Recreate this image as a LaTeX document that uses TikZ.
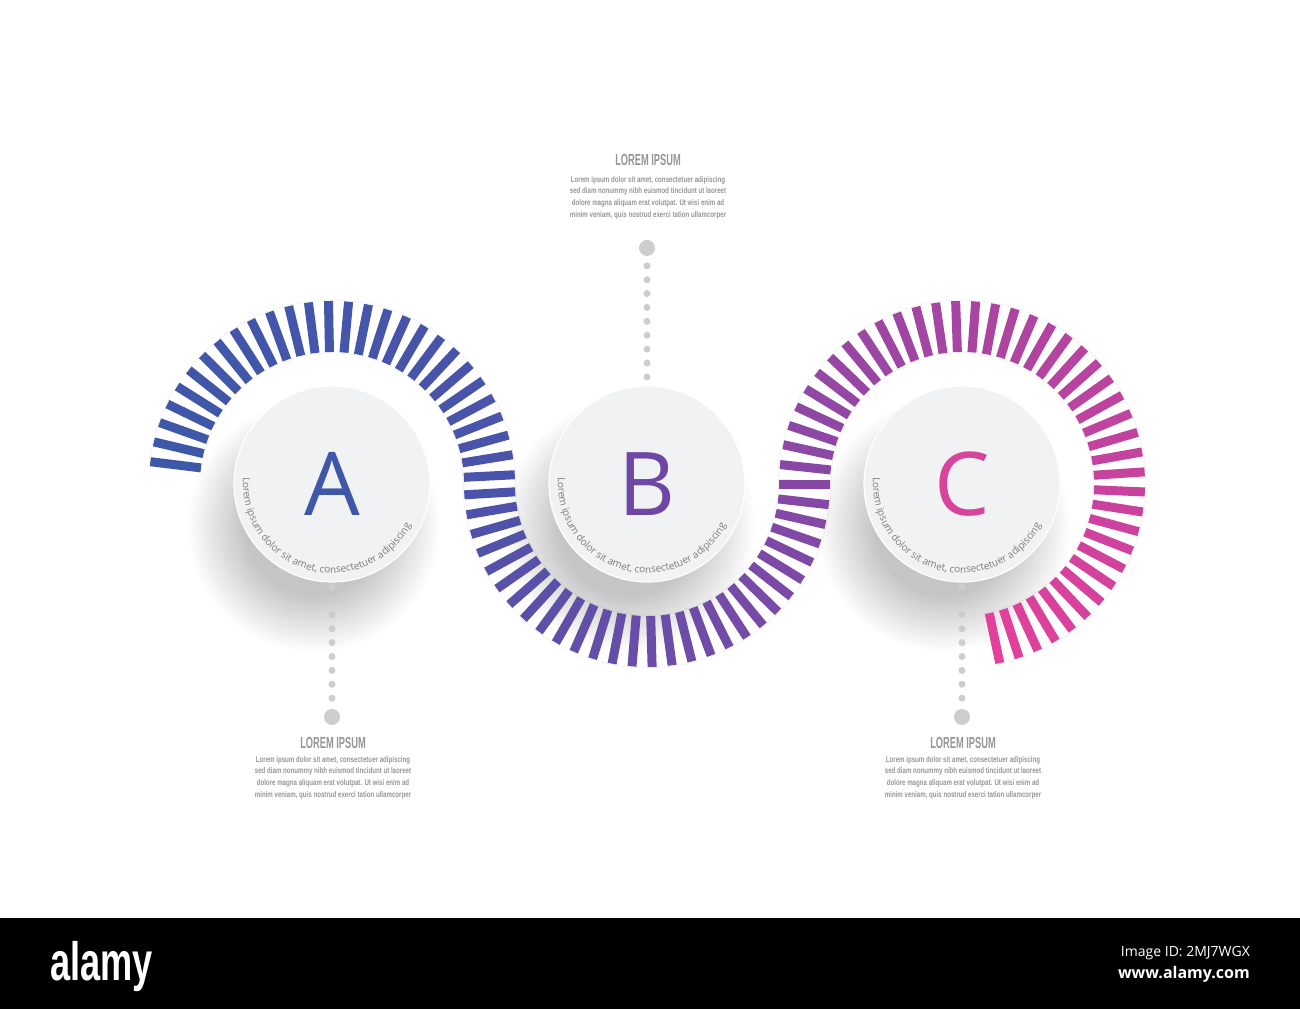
\documentclass[tikz,border=0pt]{standalone}
\usepackage{fontspec}
\setmainfont{Open Sans}
\newfontfamily\bodyfont[FakeStretch=0.74]{Liberation Sans}
\newfontfamily\headfont[FakeStretch=0.58]{Liberation Sans}
\newfontfamily\logofont[FakeStretch=0.67]{Liberation Sans}
\usetikzlibrary{decorations.text}
\definecolor{cBlue}{RGB}{62,88,168}
\definecolor{cBlueB}{RGB}{75,83,170}
\definecolor{cViolet}{RGB}{135,72,165}
\definecolor{cPink}{RGB}{228,64,155}
\definecolor{circfill}{RGB}{241,242,243}
\definecolor{dotgray}{RGB}{205,205,205}
\definecolor{txtgray}{RGB}{150,150,150}
\definecolor{curvgray}{RGB}{125,125,125}
\definecolor{letA}{RGB}{63,87,168}
\definecolor{letB}{RGB}{110,70,165}
\definecolor{letC}{RGB}{215,68,155}
\tikzset{
  circbox/.style={circle, minimum size=196pt, inner sep=0pt, fill=circfill, draw=white, line width=1.2pt, font=\fontsize{88}{88}\selectfont},
  bigdot/.style={circle, minimum size=16pt, inner sep=0pt, fill=dotgray},
  dotline/.style={dotgray, line width=7pt, line cap=round, dash pattern=on 0pt off 13.9pt},
  headtxt/.style={font=\headfont\bfseries\fontsize{16}{16}\selectfont, text=txtgray, inner sep=0pt, anchor=base},
  bodytxt/.style={font=\bodyfont\bfseries\fontsize{8.3}{11.8}\selectfont, text=txtgray, inner sep=0pt, align=center, anchor=north},
  stripe/.style={line width=9pt},
  curvtext/.style={decorate, decoration={text along path, text align=center, text={|\fontsize{10}{10}\selectfont\color{curvgray}|Lorem ipsum dolor sit amet, consectetuer adipiscing}}},
}
\begin{document}
\begin{tikzpicture}[x=1pt,y=1pt]
\useasboundingbox (0,0) rectangle (1300,1009);
\fill[white] (0,0) rectangle (1300,1009);

% band background
\draw[gray!12, line width=53.5pt] (332,525) ++(173:157.5) arc[start angle=173, end angle=0, radius=157.5]
   arc[start angle=180, end angle=360, radius=157.5] arc[start angle=180, end angle=-81, radius=157.5];
\draw[white, line width=52pt] (332,525) ++(173:157.5) arc[start angle=173, end angle=0, radius=157.5]
   arc[start angle=180, end angle=360, radius=157.5] arc[start angle=180, end angle=-81, radius=157.5];

% soft shadows
\foreach \cx in {332,647,962}{
  \foreach \r in {70,72,...,126}{
    \fill[black, fill opacity=0.008] (\cx-18, 483) circle[radius=\r];
  }
}

% stripes
\foreach \i in {0,...,97}{
  \pgfmathsetmacro\s{\i*6.3}
  \ifdim\s pt<173pt
    \def\cx{332}\pgfmathsetmacro\ang{173-\s}%
    \pgfmathsetmacro\pc{\s/173*100}%
    \colorlet{sc}{cBlueB!\pc!cBlue}%
  \else\ifdim\s pt<353pt
    \def\cx{647}\pgfmathsetmacro\ang{180+\s-173}%
    \pgfmathsetmacro\pc{(\s-173)/180*100}%
    \colorlet{sc}{cViolet!\pc!cBlueB}%
  \else
    \def\cx{962}\pgfmathsetmacro\ang{180-(\s-353)}%
    \pgfmathsetmacro\pc{(\s-353)/261*100}%
    \colorlet{sc}{cPink!\pc!cViolet}%
  \fi\fi
  \draw[stripe, sc] (\cx,525) ++(\ang:132) -- ++(\ang:51);
}

% circles
\node[circbox, text=letA] (cA) at (332,525) {A};
\node[circbox, text=letB] (cB) at (647,525) {B};
\node[circbox, text=letC] (cC) at (962,525) {C};

% curved texts
\path[curvtext] (cA.center) ++(168:89) arc[start angle=168, end angle=340, radius=89];
\path[curvtext] (cB.center) ++(168:89) arc[start angle=168, end angle=340, radius=89];
\path[curvtext] (cC.center) ++(168:89) arc[start angle=168, end angle=340, radius=89];

% end dots and dotted connectors
\node[bigdot] (dA) at (332,292) {};
\node[bigdot] (dB) at (647,761) {};
\node[bigdot] (dC) at (962,292) {};
\draw[dotline, dash phase=9.5pt] (cA.south) -- (dA);
\draw[dotline, dash phase=5.5pt] (cB.north) -- (dB);
\draw[dotline, dash phase=9.5pt] (cC.south) -- (dC);

% text blocks
\node[headtxt] (hB) at (648,843) {LOREM IPSUM};
\node[bodytxt] (bB) at (648,833.1) {Lorem ipsum dolor sit amet, consectetuer adipiscing\\sed diam nonummy nibh euismod tincidunt ut laoreet\\dolore magna aliquam erat volutpat. Ut wisi enim ad\\minim veniam, quis nostrud exerci tation ullamcorper};
\node[headtxt] (hA) at (333,260) {LOREM IPSUM};
\node[bodytxt] (bA) at (333,253.1) {Lorem ipsum dolor sit amet, consectetuer adipiscing\\sed diam nonummy nibh euismod tincidunt ut laoreet\\dolore magna aliquam erat volutpat. Ut wisi enim ad\\minim veniam, quis nostrud exerci tation ullamcorper};
\node[headtxt] (hC) at (963,260) {LOREM IPSUM};
\node[bodytxt] (bC) at (963,253.1) {Lorem ipsum dolor sit amet, consectetuer adipiscing\\sed diam nonummy nibh euismod tincidunt ut laoreet\\dolore magna aliquam erat volutpat. Ut wisi enim ad\\minim veniam, quis nostrud exerci tation ullamcorper};

% bottom bar
\fill[black] (0,0) rectangle (1300,91);
\node[anchor=base west, inner sep=0pt, text=white, font=\logofont\bfseries\fontsize{54}{54}\selectfont] (logo) at (50,29) {alamy};
\node[anchor=base east, inner sep=0pt, text=white, font=\fontsize{14}{14}\selectfont] (imgid) at (1250,53) {Image ID: 2MJ7WGX};
\node[anchor=base east, inner sep=0pt, text=white, font=\bfseries\fontsize{16}{16}\selectfont] (url) at (1250,31) {www.alamy.com};
\end{tikzpicture}
\end{document}
